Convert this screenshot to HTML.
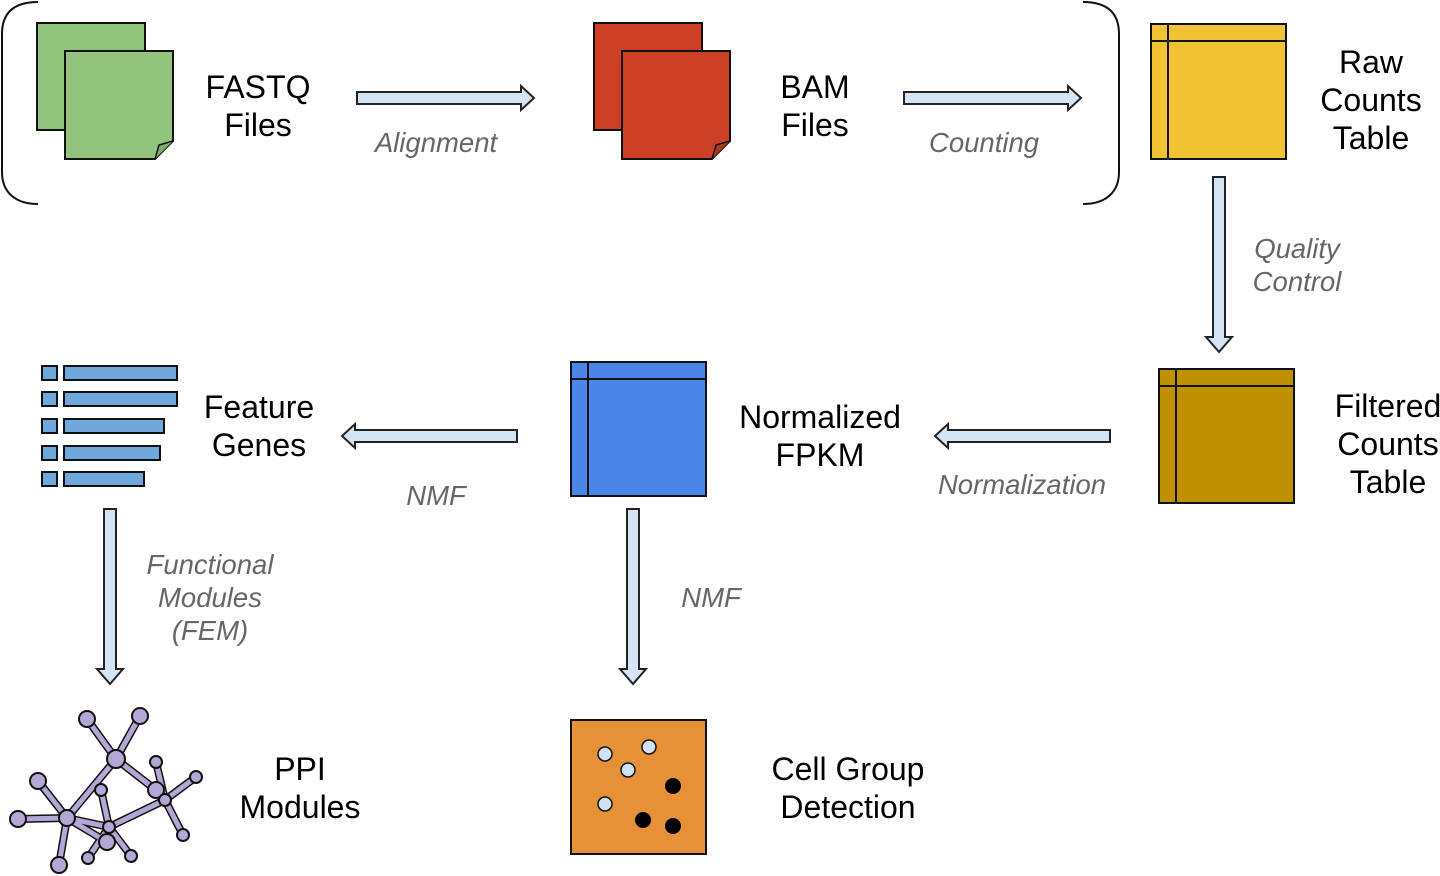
<!DOCTYPE html>
<html><head><style>html,body{margin:0;padding:0;background:#fff}svg{display:block}</style></head>
<body>
<svg width="1440" height="876" viewBox="0 0 1440 876" xmlns="http://www.w3.org/2000/svg" font-family="Liberation Sans, Arial, sans-serif">
<defs>
<g id="arrR"><path d="M0,-6 H164 V-12 L177,0 L164,12 V6 H0 Z" fill="#d4e4f5" stroke="#222" stroke-width="2"/></g>
</defs>
<path d="M38,204 C15,204 2,192 2,172 V34 C2,12 15,2 38,2" fill="none" stroke="#111" stroke-width="2"/>
<path d="M1083,2 C1106,2 1119,12 1119,34 V172 C1119,192 1106,204 1083,204" fill="none" stroke="#111" stroke-width="2"/>

<rect x="37" y="23" width="108" height="107" fill="#93c47d" stroke="#111" stroke-width="2"/>
<path d="M65,51 H173 V141 L155,159 H65 Z" fill="#93c47d" stroke="#111" stroke-width="2"/>
<path d="M155,159 L159,145 L173,141" fill="#7aad63" stroke="#111" stroke-width="1.5"/>
<text x="258" y="98" font-size="32" text-anchor="middle">FASTQ</text>
<text x="258" y="136" font-size="32" text-anchor="middle">Files</text>

<rect x="594" y="23" width="108" height="107" fill="#cc4125" stroke="#111" stroke-width="2"/>
<path d="M622,51 H730 V141 L712,159 H622 Z" fill="#cc4125" stroke="#111" stroke-width="2"/>
<path d="M712,159 L716,145 L730,141" fill="#b0341c" stroke="#111" stroke-width="1.5"/>
<text x="815" y="98" font-size="32" text-anchor="middle">BAM</text>
<text x="815" y="136" font-size="32" text-anchor="middle">Files</text>

<use href="#arrR" x="357" y="98"/>
<use href="#arrR" x="904" y="98"/>
<text x="436" y="152" font-size="27.5" font-style="italic" fill="#666" text-anchor="middle">Alignment</text>
<text x="984" y="152" font-size="27.5" font-style="italic" fill="#666" text-anchor="middle">Counting</text>

<rect x="1151" y="24" width="135" height="135" fill="#f1c232" stroke="#111" stroke-width="2"/>
<line x1="1151" y1="41" x2="1286" y2="41" stroke="#111" stroke-width="2"/>
<line x1="1168" y1="24" x2="1168" y2="159" stroke="#111" stroke-width="2"/>
<text x="1371" y="73" font-size="32" text-anchor="middle">Raw</text>
<text x="1371" y="111" font-size="32" text-anchor="middle">Counts</text>
<text x="1371" y="149" font-size="32" text-anchor="middle">Table</text>

<path d="M1213,177 H1225 V337 H1232 L1219,352 L1206,337 H1213 Z" fill="#d4e4f5" stroke="#222" stroke-width="2"/>
<text x="1297" y="258" font-size="27.5" font-style="italic" fill="#666" text-anchor="middle">Quality</text>
<text x="1297" y="291" font-size="27.5" font-style="italic" fill="#666" text-anchor="middle">Control</text>

<rect x="1159" y="369" width="135" height="134" fill="#bf9000" stroke="#111" stroke-width="2"/>
<line x1="1159" y1="386" x2="1294" y2="386" stroke="#111" stroke-width="2"/>
<line x1="1176" y1="369" x2="1176" y2="503" stroke="#111" stroke-width="2"/>
<text x="1388" y="417" font-size="32" text-anchor="middle">Filtered</text>
<text x="1388" y="455" font-size="32" text-anchor="middle">Counts</text>
<text x="1388" y="493" font-size="32" text-anchor="middle">Table</text>

<path d="M1110,430 H948 V424 L935,436 L948,448 V442 H1110 Z" fill="#d4e4f5" stroke="#222" stroke-width="2"/>
<text x="1022" y="494" font-size="27.5" font-style="italic" fill="#666" text-anchor="middle">Normalization</text>

<rect x="571" y="362" width="135" height="134" fill="#4a86e8" stroke="#111" stroke-width="2"/>
<line x1="571" y1="379" x2="706" y2="379" stroke="#111" stroke-width="2"/>
<line x1="588" y1="362" x2="588" y2="496" stroke="#111" stroke-width="2"/>
<text x="820" y="428" font-size="32" text-anchor="middle">Normalized</text>
<text x="820" y="466" font-size="32" text-anchor="middle">FPKM</text>

<path d="M517,430 H355 V424 L342,436 L355,448 V442 H517 Z" fill="#d4e4f5" stroke="#222" stroke-width="2"/>
<text x="436" y="505" font-size="27.5" font-style="italic" fill="#666" text-anchor="middle">NMF</text>

<g fill="#6fa8dc" stroke="#111" stroke-width="2">
<rect x="42" y="366" width="15" height="14"/><rect x="64" y="366" width="113" height="14"/>
<rect x="42" y="392" width="15" height="14"/><rect x="64" y="392" width="113" height="14"/>
<rect x="42" y="419" width="15" height="14"/><rect x="64" y="419" width="100" height="14"/>
<rect x="42" y="446" width="15" height="14"/><rect x="64" y="446" width="96" height="14"/>
<rect x="42" y="472" width="15" height="14"/><rect x="64" y="472" width="80" height="14"/>
</g>
<text x="259" y="418" font-size="32" text-anchor="middle">Feature</text>
<text x="259" y="456" font-size="32" text-anchor="middle">Genes</text>

<path d="M104,509 H116 V669 H123 L110,684 L97,669 H104 Z" fill="#d4e4f5" stroke="#222" stroke-width="2"/>
<path d="M627,509 H639 V669 H646 L633,684 L620,669 H627 Z" fill="#d4e4f5" stroke="#222" stroke-width="2"/>
<text x="210" y="574" font-size="27.5" font-style="italic" fill="#666" text-anchor="middle">Functional</text>
<text x="210" y="607" font-size="27.5" font-style="italic" fill="#666" text-anchor="middle">Modules</text>
<text x="210" y="640" font-size="27.5" font-style="italic" fill="#666" text-anchor="middle">(FEM)</text>
<text x="711" y="607" font-size="27.5" font-style="italic" fill="#666" text-anchor="middle">NMF</text>

<g stroke-linecap="round">
<g stroke="#111" stroke-width="8">
<path d="M87,719L116,759M140,716L116,759M116,759L67,818M116,759L156,790M156,762L165,800M156,790L165,800M196,777L165,800M165,800L183,835M165,800L109,827M38,781L67,818M18,819L67,818M67,818L59,865M67,818L109,827M67,818L107,842M101,790L109,827M109,827L88,858M109,827L131,856"/>
</g>
<g stroke="#b4a7d6" stroke-width="5">
<path d="M87,719L116,759M140,716L116,759M116,759L67,818M116,759L156,790M156,762L165,800M156,790L165,800M196,777L165,800M165,800L183,835M165,800L109,827M38,781L67,818M18,819L67,818M67,818L59,865M67,818L109,827M67,818L107,842M101,790L109,827M109,827L88,858M109,827L131,856"/>
</g>
</g>
<g fill="#b4a7d6" stroke="#111" stroke-width="2">
<circle cx="87" cy="719" r="8"/><circle cx="140" cy="716" r="8"/><circle cx="116" cy="759" r="9"/>
<circle cx="156" cy="762" r="6"/><circle cx="156" cy="790" r="8"/><circle cx="165" cy="800" r="6"/>
<circle cx="196" cy="777" r="6"/><circle cx="38" cy="781" r="8"/><circle cx="18" cy="819" r="8"/>
<circle cx="67" cy="818" r="8"/><circle cx="101" cy="790" r="6"/><circle cx="109" cy="827" r="6"/>
<circle cx="107" cy="842" r="8"/><circle cx="59" cy="865" r="8"/><circle cx="88" cy="858" r="6"/>
<circle cx="131" cy="856" r="6"/><circle cx="183" cy="835" r="6"/>
</g>
<text x="300" y="780" font-size="32" text-anchor="middle">PPI</text>
<text x="300" y="818" font-size="32" text-anchor="middle">Modules</text>

<rect x="571" y="720" width="135" height="134" fill="#e69138" stroke="#111" stroke-width="2"/>
<g fill="#cfe2f3" stroke="#111" stroke-width="1.5">
<circle cx="605" cy="754" r="7"/><circle cx="649" cy="747" r="7"/><circle cx="628" cy="770" r="7"/><circle cx="605" cy="804" r="7"/>
</g>
<g fill="#000"><circle cx="673" cy="786" r="8"/><circle cx="643" cy="820" r="8"/><circle cx="673" cy="826" r="8"/></g>
<text x="848" y="780" font-size="32" text-anchor="middle">Cell Group</text>
<text x="848" y="818" font-size="32" text-anchor="middle">Detection</text>
</svg>
</body></html>
